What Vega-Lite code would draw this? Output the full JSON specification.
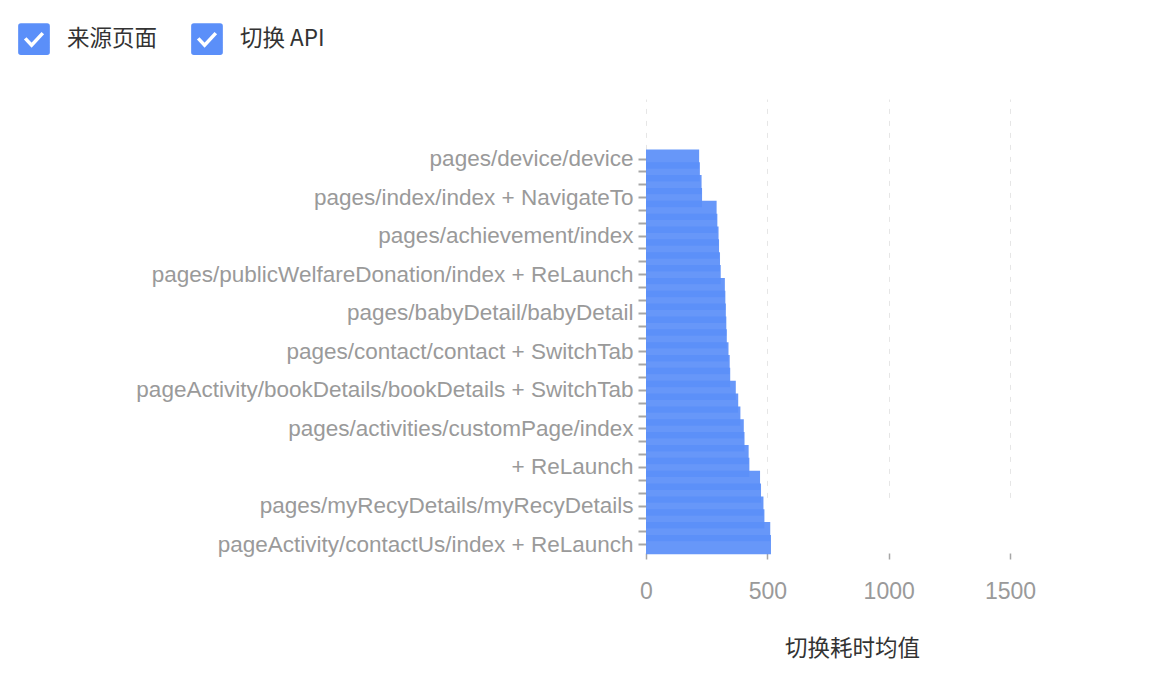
{
  "$schema": "https://vega.github.io/schema/vega-lite/v6.json",
  "description": "页面切换耗时均值 - horizontal bars",
  "autosize": {"type": "none"},
  "padding": {"left": 646, "top": 97, "right": 156, "bottom": 139},
  "width": 364,
  "height": 456,
  "background": "white",
  "config": {
    "view": {"stroke": null},
    "font": "Liberation Sans"
  },
  "data": {
    "values": [
      {"page": "pages/device/device", "avg": 219},
      {"page": "pages/mine/mine + SwitchTab", "avg": 222},
      {"page": "pages/home/home", "avg": 229},
      {"page": "pages/index/index + NavigateTo", "avg": 231},
      {"page": "pages/order/list", "avg": 291},
      {"page": "pages/login/login + RedirectTo", "avg": 294},
      {"page": "pages/achievement/index", "avg": 299},
      {"page": "pages/search/search", "avg": 301},
      {"page": "pages/setting/setting + NavigateBack", "avg": 305},
      {"page": "pages/publicWelfareDonation/index + ReLaunch", "avg": 308},
      {"page": "pages/address/address", "avg": 325},
      {"page": "pages/message/message + SwitchTab", "avg": 327},
      {"page": "pages/babyDetail/babyDetail", "avg": 329},
      {"page": "pages/coupon/coupon", "avg": 331},
      {"page": "pages/points/points + NavigateTo", "avg": 333},
      {"page": "pages/contact/contact + SwitchTab", "avg": 340},
      {"page": "pages/feedback/feedback", "avg": 345},
      {"page": "pageActivity/signIn/index + NavigateTo", "avg": 347},
      {"page": "pageActivity/bookDetails/bookDetails + SwitchTab", "avg": 370},
      {"page": "pages/news/news", "avg": 380},
      {"page": "pages/recycle/recycle + ReLaunch", "avg": 389},
      {"page": "pages/activities/customPage/index", "avg": 403},
      {"page": "pages/webview/webview", "avg": 406},
      {"page": "pages/share/share + NavigateTo", "avg": 423},
      {"page": "+ ReLaunch", "avg": 426},
      {"page": "pages/help/help", "avg": 470},
      {"page": "pages/myRecy/myRecy + SwitchTab", "avg": 474},
      {"page": "pages/myRecyDetails/myRecyDetails", "avg": 484},
      {"page": "pageActivity/lottery/index", "avg": 488},
      {"page": "pages/wallet/wallet + NavigateTo", "avg": 512},
      {"page": "pageActivity/contactUs/index + ReLaunch", "avg": 515}
    ]
  },
  "mark": {
    "type": "bar",
    "height": {"band": 1.5},
    "fill": "#5B8FF9",
    "fillOpacity": 0.93
  },
  "encoding": {
    "y": {
      "field": "page",
      "type": "nominal",
      "sort": null,
      "title": null,
      "scale": {"paddingInner": 0, "paddingOuter": 0, "range": [55.6, 454]},
      "axis": {
        "domain": false,
        "tickSize": 8,
        "tickWidth": 2,
        "tickColor": "#a6a6a6",
        "labelPadding": 5,
        "labelFontSize": 22.5,
        "labelColor": "#9a9a9a",
        "labelLimit": 600,
        "labelExpr": "indexof(['pages/device/device','pages/index/index + NavigateTo','pages/achievement/index','pages/publicWelfareDonation/index + ReLaunch','pages/babyDetail/babyDetail','pages/contact/contact + SwitchTab','pageActivity/bookDetails/bookDetails + SwitchTab','pages/activities/customPage/index','+ ReLaunch','pages/myRecyDetails/myRecyDetails','pageActivity/contactUs/index + ReLaunch'], datum.value) >= 0 ? datum.value : ''"
      }
    },
    "x": {
      "field": "avg",
      "type": "quantitative",
      "title": "切换耗时均值",
      "scale": {"domain": [0, 1500], "nice": false},
      "axis": {
        "values": [0, 500, 1000, 1500],
        "format": "d",
        "domain": false,
        "tickSize": 6,
        "tickWidth": 1.5,
        "tickColor": "#a6a6a6",
        "grid": true,
        "gridColor": "#e6e6e6",
        "gridDash": [5, 7],
        "gridWidth": 1,
        "labelPadding": 21,
        "labelFontSize": 23,
        "labelColor": "#9a9a9a",
        "labelFlush": false,
        "titleFont": "Noto Sans CJK SC",
        "titleFontSize": 22.5,
        "titleFontWeight": "normal",
        "titleColor": "#333333",
        "titleX": 206,
        "titleY": 95,
        "titleAlign": "center",
        "titleBaseline": "middle"
      }
    },
    "color": {
      "datum": "来源页面",
      "type": "nominal",
      "scale": {"domain": ["来源页面", "切换 API"], "range": ["#5B8FF9", "#5B8FF9"]},
      "legend": {
        "title": null,
        "orient": "none",
        "direction": "horizontal",
        "legendX": -630,
        "legendY": -76,
        "symbolType": "M-0.82,-1.1 H0.82 Q1.1,-1.1 1.1,-0.82 V0.82 Q1.1,1.1 0.82,1.1 H-0.82 Q-1.1,1.1 -1.1,0.82 V-0.82 Q-1.1,-1.1 -0.82,-1.1 Z M0.55,-0.38 L-0.15,0.38 L-0.55,-0.05",
        "symbolSize": 1024,
        "symbolStrokeWidth": 3.5,
        "symbolFillColor": "#3375F6",
        "labelFont": "Noto Sans CJK SC",
        "labelFontSize": 22.5,
        "labelColor": "#333333",
        "labelOffset": 15,
        "columnPadding": 24,
        "encode": {
          "symbols": {
            "update": {
              "fill": {"value": "#3375F6"},
              "fillOpacity": {"value": 1},
              "stroke": {"value": "#ffffff"},
              "opacity": {"value": 1}
            }
          }
        }
      }
    }
  }
}
